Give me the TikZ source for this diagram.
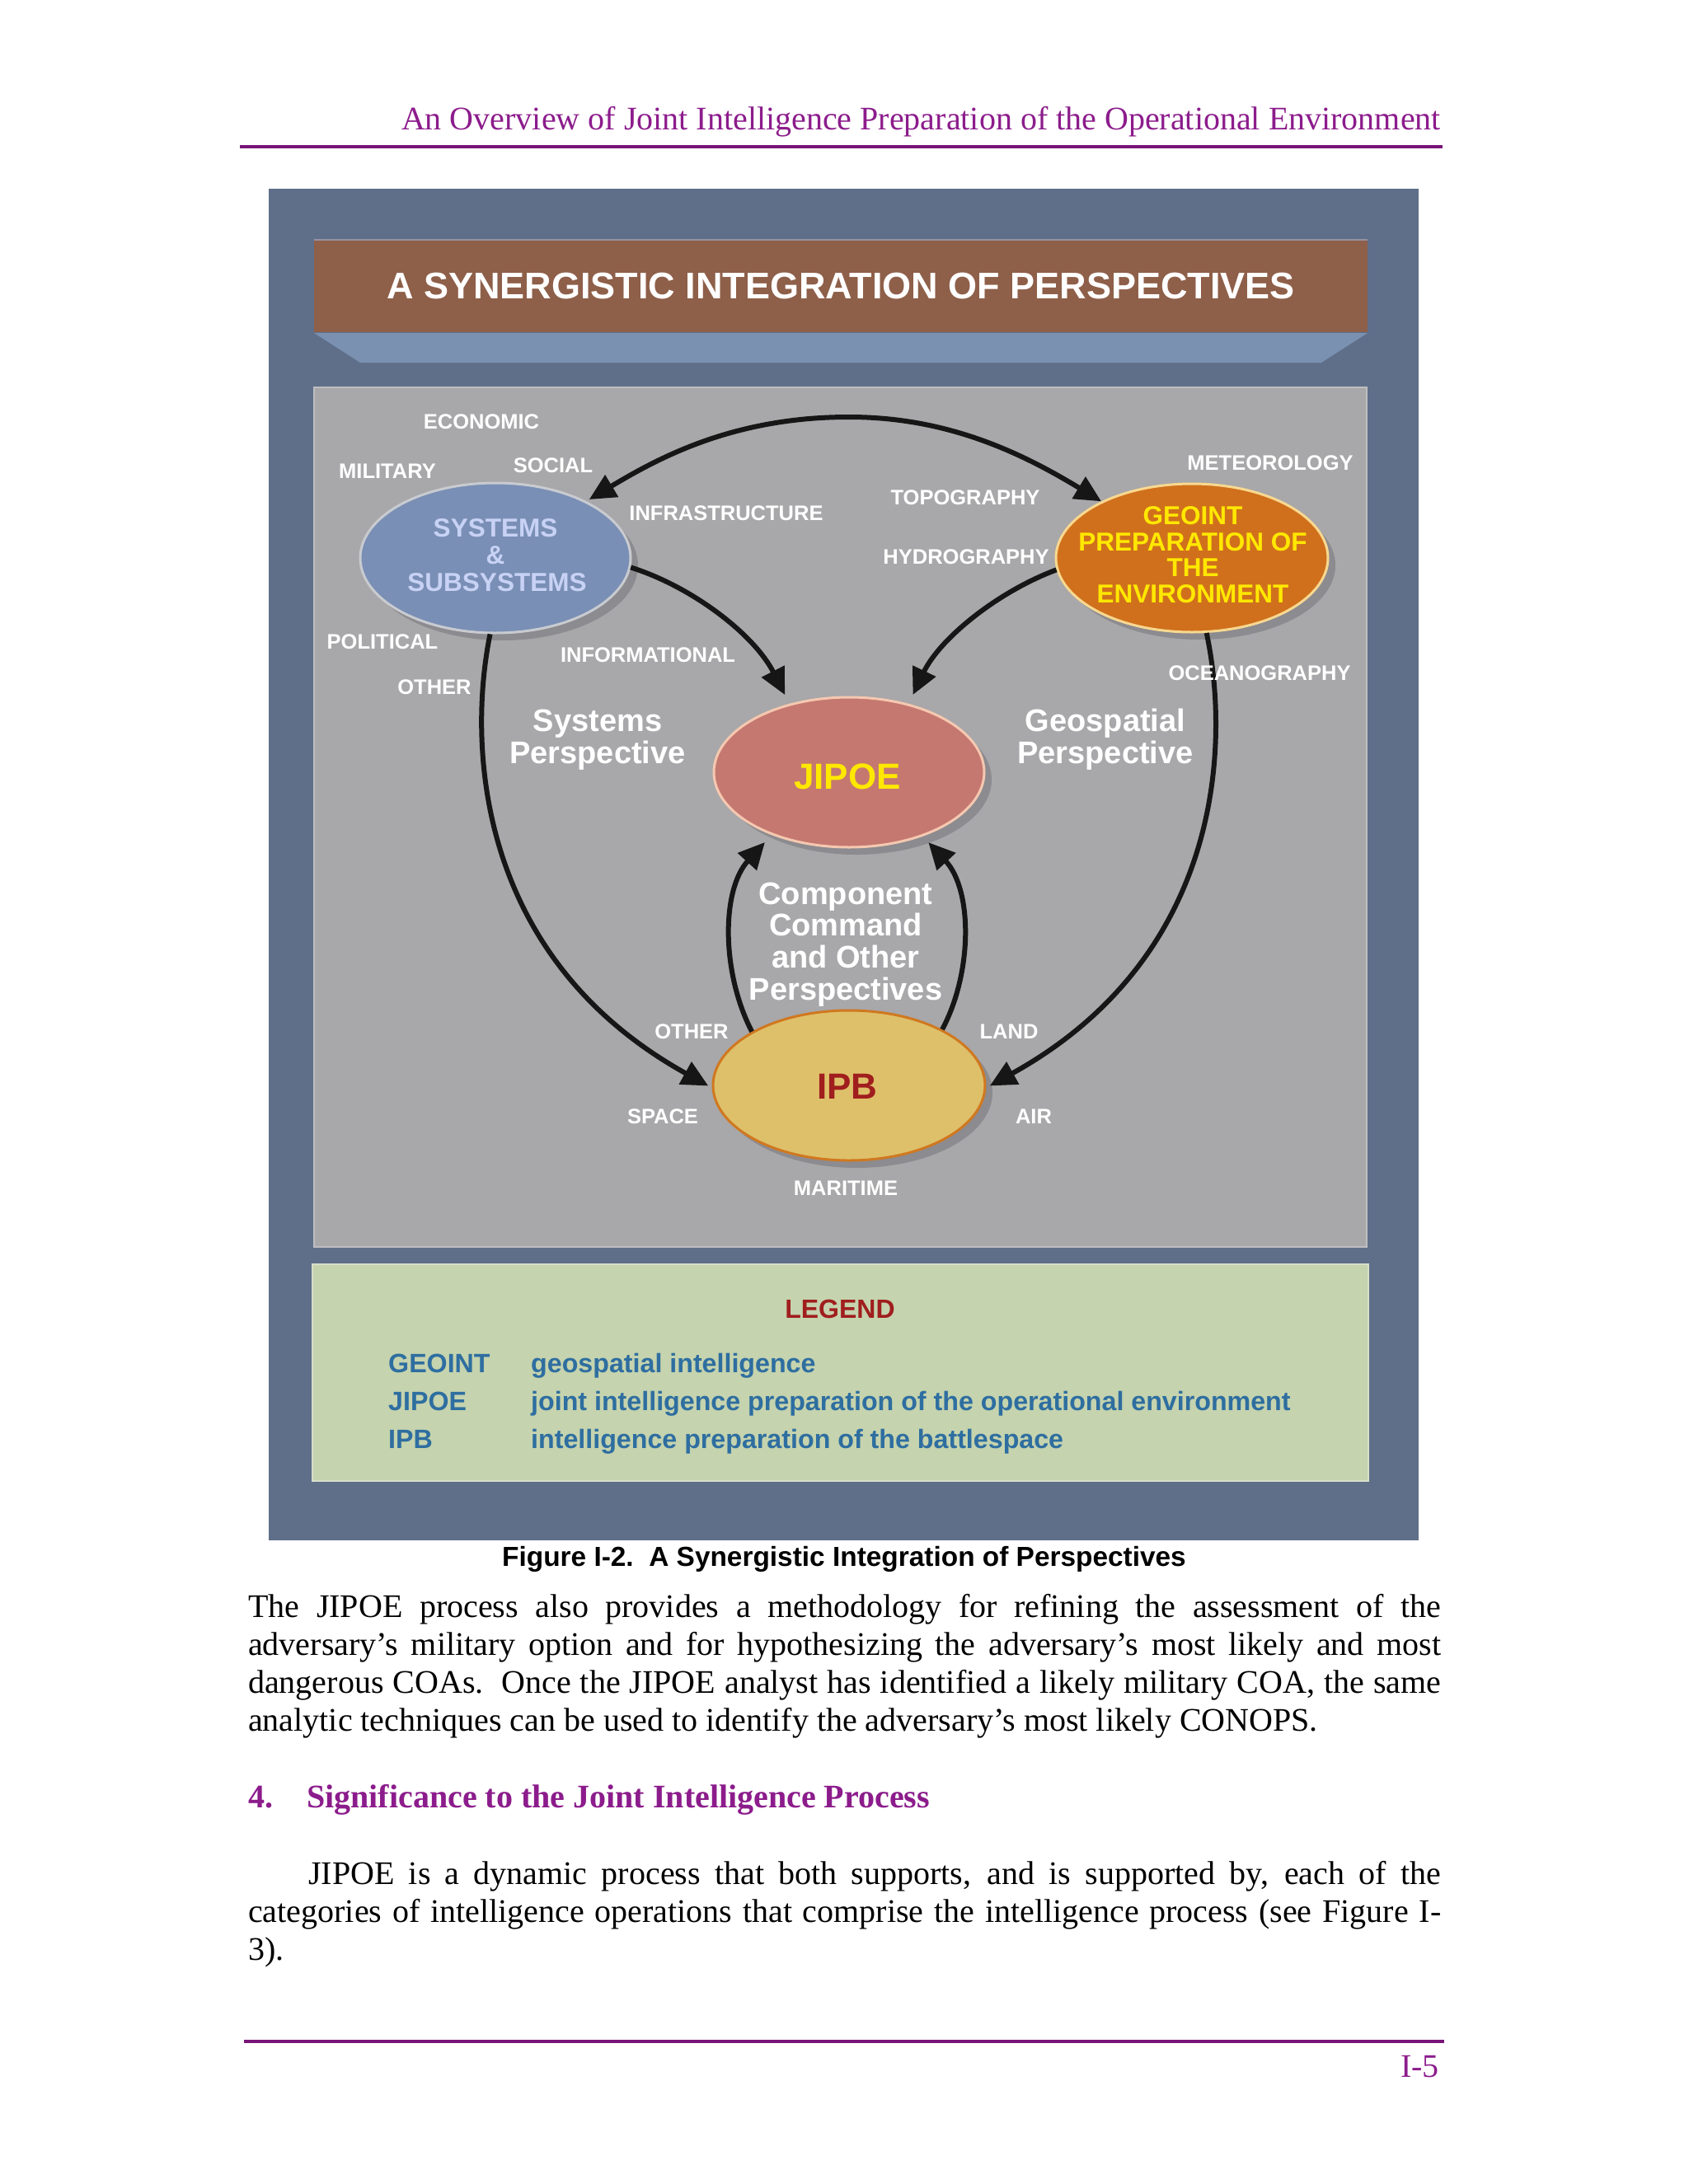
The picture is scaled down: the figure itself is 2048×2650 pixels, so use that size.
\documentclass[tikz,border=0pt]{standalone}
\usepackage{fontspec}
\setmainfont{Liberation Serif}
\newfontfamily\sansf{Liberation Sans}
\usetikzlibrary{shapes.geometric,arrows.meta}
\definecolor{outerbox}{RGB}{95,111,137}
\definecolor{titlebr}{RGB}{142,95,73}
\definecolor{trap}{RGB}{122,145,177}
\definecolor{panel}{RGB}{168,167,169}
\definecolor{legbg}{RGB}{197,211,174}
\definecolor{sysfill}{RGB}{122,143,181}
\definecolor{sysline}{RGB}{200,203,208}
\definecolor{systext}{RGB}{200,210,245}
\definecolor{geofill}{RGB}{208,112,28}
\definecolor{geoline}{RGB}{248,216,144}
\definecolor{yel}{RGB}{255,232,0}
\definecolor{jipfill}{RGB}{197,120,112}
\definecolor{jipline}{RGB}{245,200,176}
\definecolor{ipbfill}{RGB}{222,192,106}
\definecolor{ipbline}{RGB}{208,120,32}
\definecolor{darkred}{RGB}{160,30,30}
\definecolor{legblue}{RGB}{46,110,160}
\definecolor{purp}{RGB}{140,28,140}
\definecolor{purprule}{RGB}{120,20,120}
\definecolor{shadowc}{RGB}{140,139,143}
\definecolor{arrowc}{RGB}{22,22,22}
\begin{document}
\begin{tikzpicture}[x=1pt,y=-1pt,
  txt/.style={inner sep=0pt, anchor=base},
  lbl/.style={txt, text=white, font={\sansf\bfseries\fontsize{25.5}{30}\selectfont}},
  big/.style={txt, text=white, font={\sansf\bfseries\fontsize{38}{40}\selectfont}},
  ell/.style={ellipse, minimum width=328pt, minimum height=182pt, inner sep=0pt, line width=3pt},
  eltxt/.style={txt, font={\sansf\bfseries\fontsize{31.5}{32}\selectfont}},
  arr/.style={line width=6pt, draw=arrowc, -{Triangle[length=32pt,width=30pt]}},
  body/.style={txt, anchor=base west, font={\fontsize{40}{46}\selectfont}},
  legab/.style={txt, anchor=base west, text=legblue, font={\sansf\bfseries\fontsize{32.2}{36}\selectfont}}
]
\fill[white] (0,0) rectangle (2048,2650);
\useasboundingbox (0,0) rectangle (2048,2650);

% page header
\node[txt, anchor=base east, text=purp, font={\fontsize{40}{46}\selectfont}] (hdr) at (1748,157)
  {An Overview of Joint Intelligence Preparation of the Operational Environment};
\fill[purprule] (291,176) rectangle (1750,180);

% figure frame
\fill[outerbox] (326,229) rectangle (1721,1869);
\fill[titlebr] (381,291) rectangle (1659,403);
\draw[line width=1.5pt, color={rgb,255:red,150;green,145;blue,160}] (381,291) -- (1659,291);
\fill[trap] (381,404) -- (1659,404) -- (1603,440) -- (437,440) -- cycle;
\node[txt, text=white, font={\sansf\bfseries\fontsize{45}{50}\selectfont}] (title) at (1020,362)
  {A SYNERGISTIC INTEGRATION OF PERSPECTIVES};
\filldraw[fill=panel, draw={rgb,255:red,190;green,190;blue,192}, line width=1.5pt] (381,470) rectangle (1658,1513);
\filldraw[fill=legbg, draw={rgb,255:red,215;green,222;blue,200}, line width=1.5pt] (379,1534) rectangle (1660,1797);

% shadows
\fill[shadowc] (610,686) ellipse [x radius=164, y radius=91];
\fill[shadowc] (1455,686) ellipse [x radius=165, y radius=90];
\fill[shadowc] (1039,946) ellipse [x radius=164, y radius=91];
\fill[shadowc] (1039,1326) ellipse [x radius=165, y radius=91];

% ellipses
\node[ell, fill=sysfill, draw=sysline] (sys) at (601,677) {};
\node[ell, fill=geofill, draw=geoline, minimum width=330pt, minimum height=180pt] (geo) at (1446,677) {};
\node[ell, fill=jipfill, draw=jipline] (jip) at (1030,937) {};
\node[ell, fill=ipbfill, draw=ipbline, minimum width=330pt] (ipb) at (1030,1317) {};

\coordinate (apex) at (1030,506);

% connectors
\draw[arr, {Triangle[length=32pt,width=30pt]}-{Triangle[length=32pt,width=30pt]}, shorten <=4pt]
  (sys.32) .. controls (800,555) and (890,506) .. (apex) .. controls (1150,506) and (1240,550) .. (geo.148);
\draw[arr, shorten >=12pt] (sys.-4) .. controls (840,712) and (915,770) .. (jip.131);
\draw[arr, shorten >=12pt] (geo.185) .. controls (1210,718) and (1140,775) .. (jip.49);
\draw[arr, shorten >=5pt] (sys.266) .. controls (568,900) and (575,1160) .. (ipb.181);
\draw[arr, shorten >=5pt] (geo.281) .. controls (1492,900) and (1485,1160) .. (ipb.-1);
\draw[arr, shorten >=12pt] (ipb.151) .. controls (875,1180) and (875,1080) .. (jip.219);
\draw[arr, shorten >=10pt] (ipb.31) .. controls (1180,1180) and (1180,1080) .. (jip.-41);

% ellipse texts
\node[eltxt, text=systext] (s1) at (601,651) {SYSTEMS};
\node[eltxt, text=systext] (s2) at (601,684) {\&};
\node[eltxt, text=systext] (s3) at (603,717) {SUBSYSTEMS};
\node[eltxt, text=yel] (g1) at (1447,636) {GEOINT};
\node[eltxt, text=yel] (g2) at (1447,668) {PREPARATION OF};
\node[eltxt, text=yel] (g3) at (1447,699) {THE};
\node[eltxt, text=yel] (g4) at (1447,731) {ENVIRONMENT};
\node[txt, text=yel, font={\sansf\bfseries\fontsize{44}{46}\selectfont}] (jt) at (1028,957) {JIPOE};
\node[txt, text=darkred, font={\sansf\bfseries\fontsize{44}{46}\selectfont}] (it) at (1028,1333) {IPB};

% small labels
\node[lbl] (l1) at (584,520) {ECONOMIC};
\node[lbl] (l2) at (470,580) {MILITARY};
\node[lbl] (l3) at (671,573) {SOCIAL};
\node[lbl] (l4) at (881,631) {INFRASTRUCTURE};
\node[lbl] (l5) at (464,787) {POLITICAL};
\node[lbl] (l6) at (527,842) {OTHER};
\node[lbl] (l7) at (786,803) {INFORMATIONAL};
\node[lbl] (l8) at (1541,570) {METEOROLOGY};
\node[lbl] (l9) at (1171,612) {TOPOGRAPHY};
\node[lbl] (l10) at (1172,684) {HYDROGRAPHY};
\node[lbl] (l11) at (1528,825) {OCEANOGRAPHY};
\node[lbl] (l12) at (839,1260) {OTHER};
\node[lbl] (l13) at (1224,1260) {LAND};
\node[lbl] (l14) at (804,1363) {SPACE};
\node[lbl] (l15) at (1254,1363) {AIR};
\node[lbl] (l16) at (1026,1450) {MARITIME};

% perspective labels
\node[big] (p1) at (725,887) {Systems};
\node[big] (p2) at (725,926) {Perspective};
\node[big] (p3) at (1341,887) {Geospatial};
\node[big] (p4) at (1341,926) {Perspective};
\node[big] (c1) at (1026,1097) {Component};
\node[big] (c2) at (1026,1135) {Command};
\node[big] (c3) at (1026,1174) {and Other};
\node[big] (c4) at (1026,1213) {Perspectives};

% legend
\node[txt, text=darkred, font={\sansf\bfseries\fontsize{32}{36}\selectfont}] (leg) at (1019,1599) {LEGEND};
\node[legab] (a1) at (471,1665) {GEOINT};
\node[legab] (a2) at (471,1711) {JIPOE};
\node[legab] (a3) at (471,1757) {IPB};
\node[legab] (d1) at (644,1665) {geospatial intelligence};
\node[legab] (d2) at (644,1711) {joint intelligence preparation of the operational environment};
\node[legab] (d3) at (644,1757) {intelligence preparation of the battlespace};

% caption
\node[txt, font={\sansf\bfseries\fontsize{33.4}{36}\selectfont}] (cap) at (1024,1900)
  {Figure I-2.\ \ A Synergistic Integration of Perspectives};

% body text
\node[body] (b1) at (301,1962) {\makebox[1447pt][s]{The JIPOE process also provides a methodology for refining the assessment of the}};
\node[body] (b2) at (301,2008) {\makebox[1447pt][s]{adversary’s military option and for hypothesizing the adversary’s most likely and most}};
\node[body] (b3) at (301,2054) {\makebox[1447pt][s]{dangerous COAs.\ \ Once the JIPOE analyst has identified a likely military COA, the same}};
\node[body] (b4) at (301,2100) {analytic techniques can be used to identify the adversary’s most likely CONOPS.};
\node[body, text=purp, font={\bfseries\fontsize{40}{46}\selectfont}] (h1) at (301,2193) {4.};
\node[body, text=purp, font={\bfseries\fontsize{40}{46}\selectfont}] (h2) at (372,2193) {Significance to the Joint Intelligence Process};
\node[body] (b5) at (374,2286) {\makebox[1374pt][s]{JIPOE is a dynamic process that both supports, and is supported by, each of the}};
\node[body] (b6) at (301,2332) {\makebox[1447pt][s]{categories of intelligence operations that comprise the intelligence process (see Figure I-}};
\node[body] (b7) at (301,2378) {3).};

% footer
\fill[purprule] (296,2475) rectangle (1752,2479);
\node[txt, anchor=base east, text=purp, font={\fontsize{40}{46}\selectfont}] (pg) at (1746,2520) {I-5};
\end{tikzpicture}
\end{document}
